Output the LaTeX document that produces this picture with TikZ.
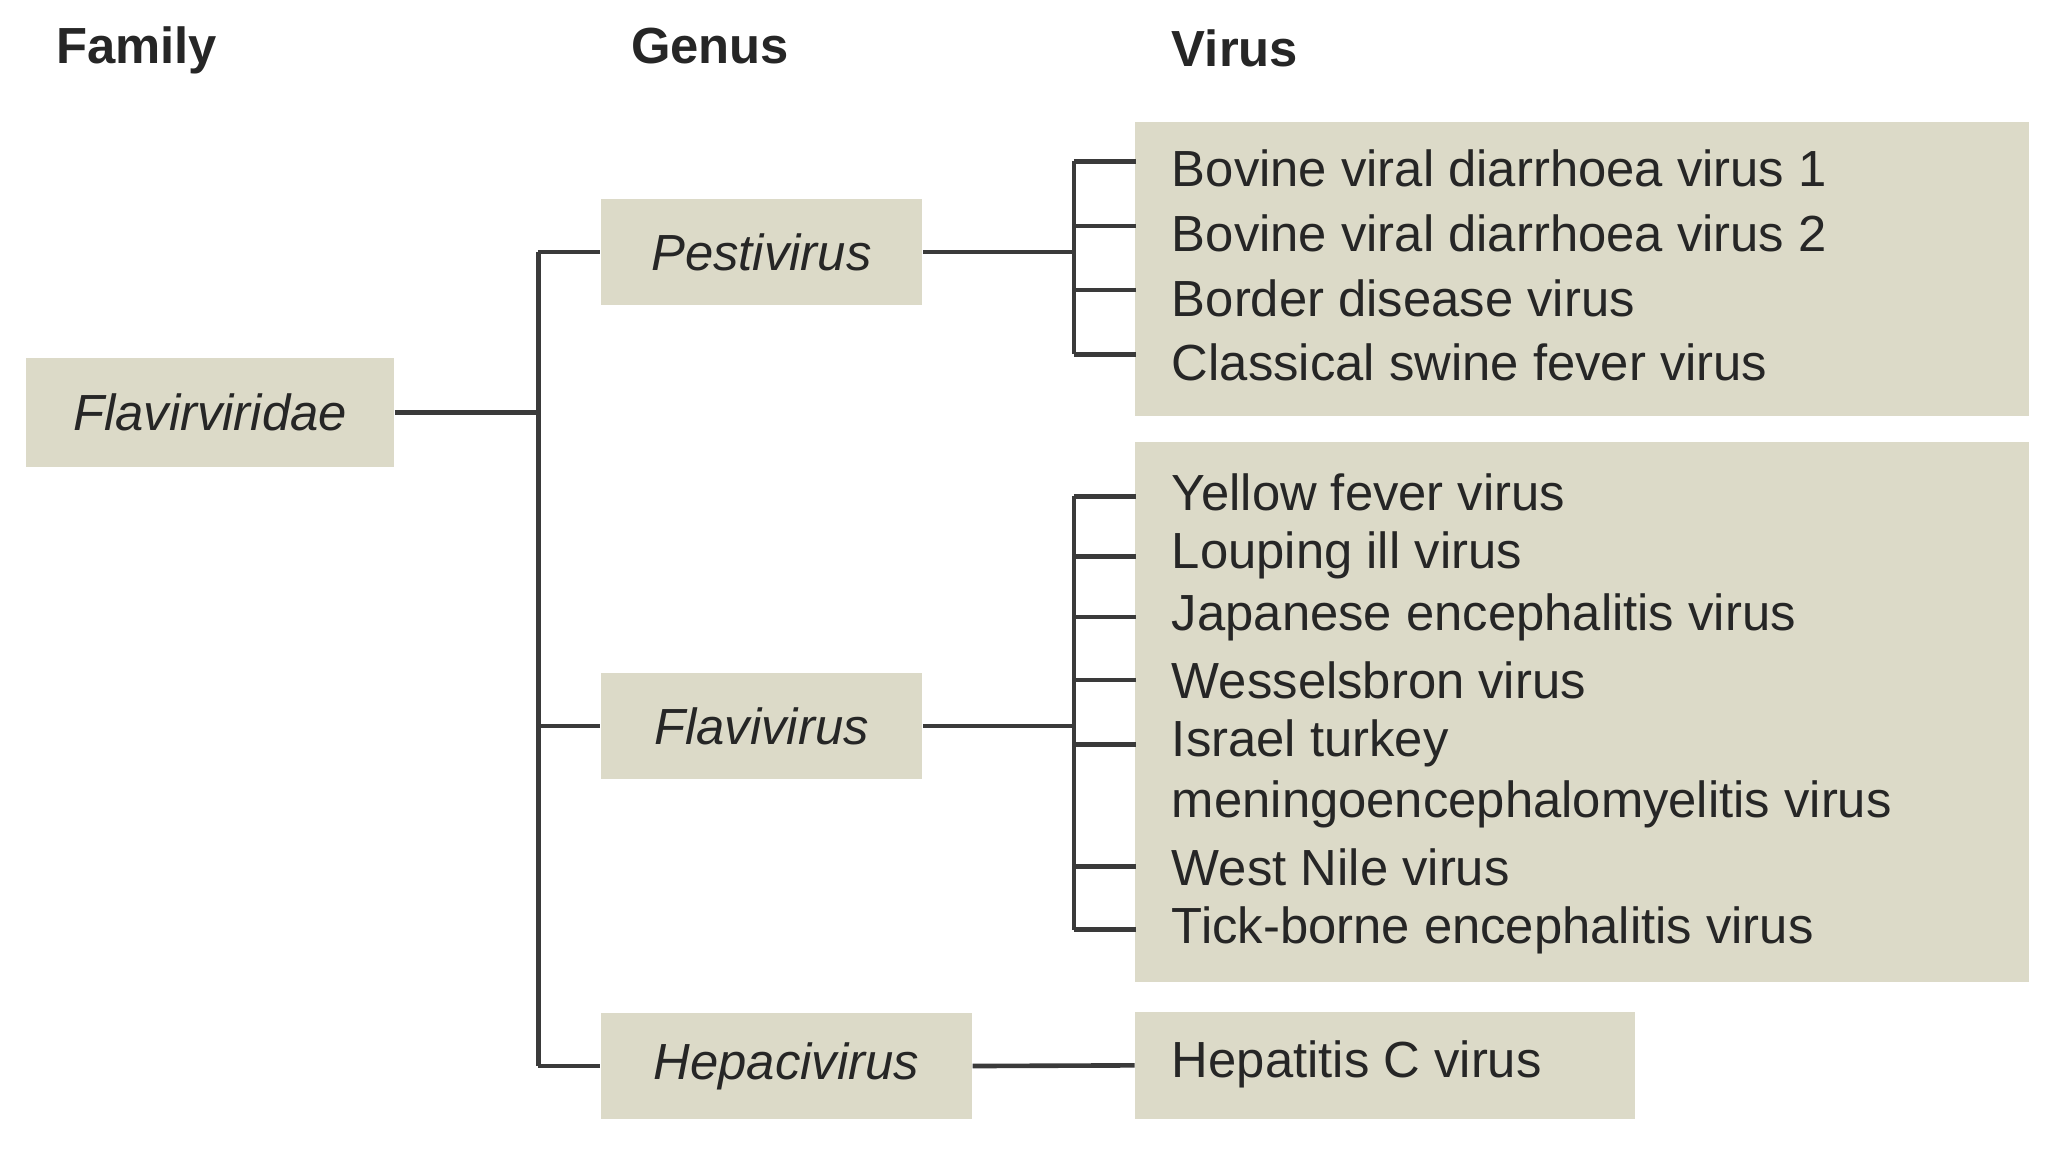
\documentclass[tikz,border=0pt]{standalone}
\usepackage{fontspec}
\setmainfont{Liberation Sans}
\definecolor{boxfill}{HTML}{DCDAC8}
\definecolor{linec}{HTML}{3A3A3A}
\begin{document}
\begin{tikzpicture}[x=0.01cm,y=-0.01cm,
  bx/.style={fill=boxfill,draw=none,inner sep=0pt},
  gen/.style={font=\fontsize{11}{13}\selectfont\itshape,text=black!85},
  vt/.style={font=\fontsize{11}{13}\selectfont,text=black!85,anchor=west,inner sep=0pt},
  hd/.style={font=\fontsize{11}{13}\selectfont\bfseries,text=black!85,anchor=west,inner sep=0pt},
  ln/.style={draw=linec,line width=1pt}]
\useasboundingbox (0,0) rectangle (1560,877.5);
% headers
\node[hd] (hfam) at (42,38) {Family};
\node[hd] (hgen) at (480,35) {Genus};
\node[hd] (hvir) at (892,37) {Virus};
% boxes
\node[bx,minimum width=280\pgflinewidth,minimum width=2.8cm,minimum height=0.83cm] (fam) at (160,314) {};
\node[gen] at (fam.center) {Flavirviridae};
\node[bx,minimum width=2.45cm,minimum height=0.81cm] (pes) at (580,192) {};
\node[gen] at (pes.center) {Pestivirus};
\node[bx,minimum width=2.45cm,minimum height=0.81cm] (fla) at (580,553) {};
\node[gen] at (fla.center) {Flavivirus};
\node[bx,minimum width=2.82cm,minimum height=0.80cm] (hep) at (599,812) {};
\node[gen] at (hep.center) {Hepacivirus};
\node[bx,minimum width=6.80cm,minimum height=2.24cm] (vb1) at (1205,205) {};
\node[bx,minimum width=6.80cm,minimum height=4.11cm] (vb2) at (1205,542.5) {};
\node[bx,minimum width=3.80cm,minimum height=0.81cm] (vb3) at (1055,811.5) {};
% virus texts
\node[vt] (v1) at (892,128) {Bovine viral diarrhoea virus 1};
\node[vt] (v2) at (892,178) {Bovine viral diarrhoea virus 2};
\node[vt] (v3) at (892,227) {Border disease virus};
\node[vt] (v4) at (892,276) {Classical swine fever virus};
\node[vt] (f1) at (892,375) {Yellow fever virus};
\node[vt] (f2) at (892,423) {Louping ill virus};
\node[vt] (f3) at (892,470) {Japanese encephalitis virus};
\node[vt] (f4) at (892,518) {Wesselsbron virus};
\node[vt] (f5) at (892,566) {Israel turkey};
\node[vt] (f6) at (892,613) {meningoencephalomyelitis virus};
\node[vt] (f7) at (892,661) {West Nile virus};
\node[vt] (f8) at (892,709) {Tick-borne encephalitis virus};
\node[vt] (h1) at (892,811) {Hepatitis C virus};
% trunk
\coordinate (tj) at (410,314);
\coordinate (tt) at (410,192);
\coordinate (tb) at (410,812);
\coordinate (tm) at (410,553);
\draw[ln] (fam.east) -- (tj);
\draw[ln] (tt) -- (tb);
\draw[ln] (tt) -- (pes.west);
\draw[ln] (tm) -- (fla.west);
\draw[ln] (tb) -- (hep.west);
% pestivirus bracket
\coordinate (pj) at (818,192);
\draw[ln] (pes.east) -- (pj);
\draw[ln] (818,123) -- (818,270);
\foreach \y in {123,172,221,270} \draw[ln] (818,\y) -- (865,\y);
% flavivirus bracket
\coordinate (fj) at (818,553);
\draw[ln] (fla.east) -- (fj);
\draw[ln] (818,378) -- (818,708);
\foreach \y in {378,424,470,518,567,660,708} \draw[ln] (818,\y) -- (865,\y);
% hepacivirus
\draw[ln] (hep.east) -- (vb3.west);
\end{tikzpicture}
\end{document}
